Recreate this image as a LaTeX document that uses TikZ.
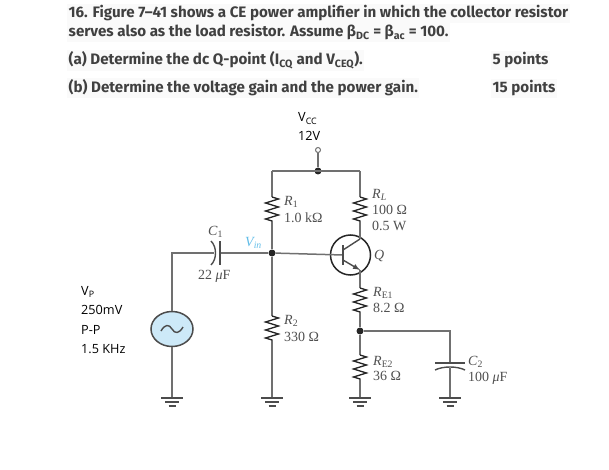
\documentclass[tikz,border=0pt]{standalone}
\usepackage{fontspec}
\setmainfont{Fira Sans}
\newfontfamily\labfont{Open Sans}
\newfontfamily\partfont{Liberation Serif}
\usetikzlibrary{shapes.geometric,decorations.pathmorphing,positioning}

\definecolor{wiregray}{HTML}{707070}
\definecolor{inkgray}{HTML}{505050}
\definecolor{srcblue}{HTML}{CDE9F8}
\definecolor{vinblue}{HTML}{62BDE8}
\definecolor{linetint}{HTML}{FAFAFA}

\newcommand{\lowsub}[1]{\textsubscript{#1}}

\tikzset{
  wire/.style={draw=wiregray,line width=1.5pt},
  res/.style={draw=black!85,line width=1.3pt,decorate,
    decoration={zigzag,amplitude=6.5pt,segment length=8pt}},
  plate/.style={draw=black!70,line width=1.4pt},
  dot/.style={circle,fill=black!85,inner sep=0pt,minimum size=7pt},
  qline/.style={anchor=base west,inner sep=1.5pt,fill=linetint,text=black!75,
    font=\fontsize{15.15}{18}\selectfont\bfseries},
  lab/.style={anchor=base west,inner sep=0pt,text=black,
    font=\fontsize{12.7}{15}\selectfont\labfont},
  part/.style={anchor=base west,inner sep=0pt,text=inkgray,
    font=\fontsize{14}{16}\selectfont\partfont},
  gnd/.pic={
    \draw[plate] (-11,0) -- (11,0);
    \draw[plate] (-7,4) -- (7,4);
    \draw[plate] (-3.5,8) -- (3.5,8);
  }
}

\begin{document}
\begin{tikzpicture}[x=1pt,y=-1pt]
  \useasboundingbox (0,0) rectangle (609,470);

  \node (line1) [qline] at (67,18) {16. Figure 7--41 shows a CE power amplifier in which the collector resistor};
  \node (line2) [qline] at (67,37) {serves also as the load resistor. Assume β\lowsub{DC} = β\lowsub{ac} = 100.};
  \node (parta) [qline] at (67,65) {(a) Determine the dc Q-point (I\lowsub{CQ} and V\lowsub{CEQ}).};
  \node (ptsa) [qline] at (491,65) {5 points};
  \node (partb) [qline] at (67,93) {(b) Determine the voltage gain and the power gain.};
  \node (ptsb) [qline] at (491,93) {15 points};

  \node (vcc) [lab] at (298,122) {V\lowsub{CC}};
  \node (volt) [lab] at (298,141) {12V};
  \node (vp) [lab] at (81,295) {V\lowsub{P}};
  \node (amp) [lab] at (81,314) {250mV};
  \node (pp) [lab] at (81,334) {P-P};
  \node (freq) [lab] at (81,353) {1.5 KHz};

  \node (term) [circle,draw=wiregray,line width=1pt,inner sep=0pt,minimum size=5pt] at (318,150) {};
  \node (top) [dot] at (318,171) {};
  \node (base) [dot] at (272,253) {};
  \node (emit) [dot] at (360,331) {};
  \node (src) [ellipse,draw=black!70,fill=srcblue,line width=1.5pt,inner sep=0pt,
        minimum width=42pt,minimum height=35pt] at (172,329) {};
  \node (Q) [circle,draw=black!85,line width=1.5pt,inner sep=0pt,minimum size=40pt] at (350.5,255) {};

  \coordinate (tl) at (272,171);
  \coordinate (tr) at (360,171);
  \coordinate (cornerin) at (172,253);
  \coordinate (Cleft) at (214,253);
  \coordinate (Cright) at (220,253);
  \coordinate (R1a) at (272,197);
  \coordinate (R1b) at (272,222);
  \coordinate (R2a) at (272,316);
  \coordinate (R2b) at (272,341);
  \coordinate (RLa) at (360,197);
  \coordinate (RLb) at (360,222);
  \coordinate (RE1a) at (360,288);
  \coordinate (RE1b) at (360,313);
  \coordinate (RE2a) at (360,355);
  \coordinate (RE2b) at (360,380);
  \coordinate (bar) at (343,255);
  \coordinate (barc) at (343,250);
  \coordinate (bare) at (343,260);
  \coordinate (coll) at (360,239);
  \coordinate (emi) at (360,270);
  \coordinate (corner2) at (450,331);
  \coordinate (C2a) at (450,363);
  \coordinate (C2b) at (450,368);
  \coordinate (g1) at (172,398);
  \coordinate (g2) at (272,398);
  \coordinate (g3) at (360,398);
  \coordinate (g4) at (450,398);

  \draw[wire] (term) -- (top);
  \draw[wire] (tl) -- (tr);
  \draw[wire] (tl) -- (R1a);
  \draw[wire] (tr) -- (RLa);
  \draw[res] (R1a) -- (R1b);
  \draw[res] (RLa) -- (RLb);
  \draw[wire] (R1b) -- (base);
  \draw[wire] (RLb) -- (coll);
  \draw[wire] (base) -- (R2a);
  \draw[res] (R2a) -- (R2b);
  \draw[wire] (R2b) -- (g2);
  \draw[wire] (src) -- (cornerin) -- (Cleft);
  \draw[wire] (Cright) -- (base);
  \draw[wire] (base) -- (bar);
  \draw[wire] (src) -- (g1);

  % capacitor C1
  \draw[plate] (211,241) .. controls (217,247) and (217,259) .. (211,265);
  \draw[plate] (220,241) -- (220,265);

  % transistor
  \draw[plate,line width=1.7pt] (343,245) -- (343,265);
  \draw[plate] (barc) -- (coll);
  \draw[plate,-latex] (bare) -- (emi);
  \draw[wire] (emi) -- (RE1a);
  \draw[res] (RE1a) -- (RE1b);
  \draw[wire] (RE1b) -- (emit);
  \draw[wire] (emit) -- (RE2a);
  \draw[res] (RE2a) -- (RE2b);
  \draw[wire] (RE2b) -- (g3);
  \draw[wire] (emit) -- (corner2) -- (C2a);
  \draw[wire] (C2b) -- (g4);

  % capacitor C2
  \draw[plate] (435,363) -- (465,363);
  \draw[plate] (435,370) .. controls (443,366) and (457,366) .. (465,370);

  % sine in the source
  \draw[plate] (161,331) .. controls (165,324) and (169,324) .. (172,329)
        .. controls (175,334) and (179,334) .. (183,327);

  \pic at (g1) {gnd};
  \pic at (g2) {gnd};
  \pic at (g3) {gnd};
  \pic at (g4) {gnd};

  \node (C1name) [part] at (208,235) {\itshape C\lowsub{\upshape 1}};
  \node (C1val) [part] at (198,279) {22 \itshape μ\upshape F};
  \node (vin) [part,text=vinblue] at (245,246) {\itshape V\lowsub{in}};
  \node (R1name) [part] at (284,205) {\itshape R\lowsub{\upshape 1}};
  \node (R1val) [part] at (284,222) {1.0 kΩ};
  \node (RLname) [part] at (372,198) {\itshape R\lowsub{L}};
  \node (RLval) [part] at (372,214) {100 Ω};
  \node (RLpow) [part] at (372,230) {0.5 W};
  \node (Qname) [part] at (374,259) {\itshape Q};
  \node (RE1name) [part] at (373,296) {\itshape R\lowsub{\upshape E1}};
  \node (RE1val) [part] at (373,312) {8.2 Ω};
  \node (R2name) [part] at (284,324) {\itshape R\lowsub{\upshape 2}};
  \node (R2val) [part] at (284,341) {330 Ω};
  \node (RE2name) [part] at (373,365) {\itshape R\lowsub{\upshape E2}};
  \node (RE2val) [part] at (373,380) {36 Ω};
  \node (C2name) [part] at (468,365) {\itshape C\lowsub{\upshape 2}};
  \node (C2val) [part] at (468,381) {100 \itshape μ\upshape F};
\end{tikzpicture}
\end{document}
